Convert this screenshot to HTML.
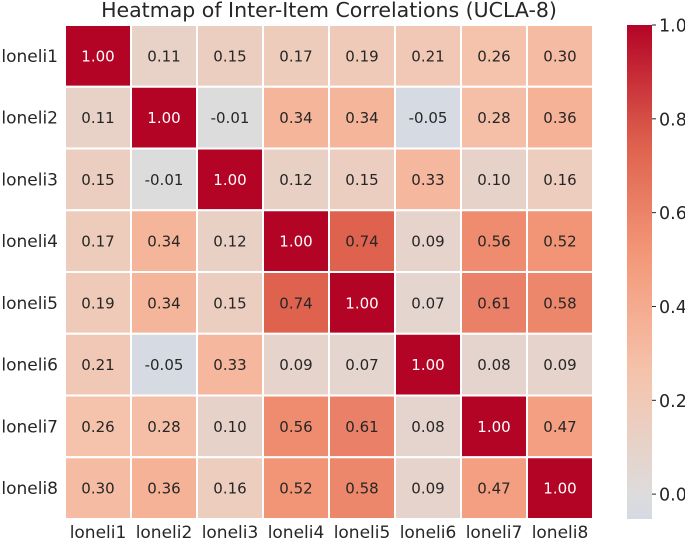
<!DOCTYPE html>
<html><head><meta charset="utf-8"><style>
body{margin:0;background:#fff;width:685px;height:539px;overflow:hidden;font-family:"Liberation Sans","DejaVu Sans",sans-serif}
</style></head><body>
<svg id="chart" width="685" height="539" xmlns="http://www.w3.org/2000/svg" font-family="DejaVu Sans, Liberation Sans, sans-serif">
<text x="329" y="17" text-anchor="middle" font-size="20.5" fill="#262626">Heatmap of Inter-Item Correlations (UCLA-8)</text>
<g id="cells"></g><g id="labels"></g>
<defs><linearGradient id="cbg" x1="0" y1="1" x2="0" y2="0"></linearGradient></defs>
<rect x="627" y="25" width="25" height="494" fill="url(#cbg)"/>
<g id="cbticks"></g>
</svg>
<script>
const items=["loneli1","loneli2","loneli3","loneli4","loneli5","loneli6","loneli7","loneli8"];
const row1=[1.00,0.11,0.15,0.17,0.19,0.21,0.26,0.30];
const row2=[0.11,1.00,-0.01,0.34,0.34,-0.05,0.28,0.36];
const row3=[0.15,-0.01,1.00,0.12,0.15,0.33,0.10,0.16];
const row4=[0.17,0.34,0.12,1.00,0.74,0.09,0.56,0.52];
const row5=[0.19,0.34,0.15,0.74,1.00,0.07,0.61,0.58];
const row6=[0.21,-0.05,0.33,0.09,0.07,1.00,0.08,0.09];
const row7=[0.26,0.28,0.10,0.56,0.61,0.08,1.00,0.47];
const row8=[0.30,0.36,0.16,0.52,0.58,0.09,0.47,1.00];
const matrix=[row1,row2,row3,row4,row5,row6,row7,row8];
const cbTicks=[0.0,0.2,0.4,0.6,0.8,1.0];
const vmin=-0.053,vmax=1.0;
const X0=65,X1=593,Y0=25,Y1=519;
const cw=(X1-X0)/items.length,ch=(Y1-Y0)/items.length;
const xs=i=>X0+i*cw, ys=i=>Y0+i*ch;
const cbY=v=>Y1-(v-vmin)/(vmax-vmin)*(Y1-Y0);
const stops=[[0,[59,76,192]],[0.125,[98,130,234]],[0.25,[141,176,254]],[0.375,[184,208,249]],[0.5,[221,220,220]],[0.625,[245,196,173]],[0.75,[244,154,123]],[0.875,[222,96,77]],[1,[180,4,38]]];
function color(v){let t=(v+1)/2;t=Math.max(0,Math.min(1,t));
for(let i=1;i<stops.length;i++){if(t<=stops[i][0]){const a=stops[i-1],b=stops[i],f=(t-a[0])/(b[0]-a[0]);
return 'rgb('+a[1].map((c,k)=>Math.round(c+(b[1][k]-c)*f)).join(',')+')';}}return 'rgb(180,4,38)';}
const NS="http://www.w3.org/2000/svg";
const cells=document.getElementById('cells'),labels=document.getElementById('labels');
matrix.forEach((row,r)=>row.forEach((v,c)=>{
const rect=document.createElementNS(NS,'rect');


rect.setAttribute('x',xs(c));rect.setAttribute('y',ys(r));rect.setAttribute('width',cw);rect.setAttribute('height',ch);
rect.setAttribute('fill',color(v));rect.setAttribute('stroke','#fff');rect.setAttribute('stroke-width','2');
cells.appendChild(rect);
const t=document.createElementNS(NS,'text');


t.setAttribute('x',xs(c)+cw/2);t.setAttribute('y',ys(r)+ch/2+5.5);t.setAttribute('text-anchor','middle');t.setAttribute('font-size','15');
t.setAttribute('fill',v>0.8?'#fff':'#262626');t.textContent=v.toFixed(2);cells.appendChild(t);
}));
items.forEach((n,i)=>{
const a=document.createElementNS(NS,'text');


a.setAttribute('x',xs(i)+cw/2);a.setAttribute('y',538);a.setAttribute('text-anchor','middle');a.setAttribute('font-size','17');a.setAttribute('fill','#262626');a.textContent=n;labels.appendChild(a);
const b=document.createElementNS(NS,'text');


b.setAttribute('x',58);b.setAttribute('y',ys(i)+ch/2+6);b.setAttribute('text-anchor','end');b.setAttribute('font-size','17');b.setAttribute('fill','#262626');b.textContent=n;labels.appendChild(b);
});
const g=document.getElementById('cbg');
for(let i=0;i<=20;i++){const v=vmin+(vmax-vmin)*i/20;const s=document.createElementNS(NS,'stop');s.setAttribute('offset',i/20);s.setAttribute('stop-color',color(v));g.appendChild(s);}
const cbt=document.getElementById('cbticks');
cbTicks.forEach(v=>{
const l=document.createElementNS(NS,'line');


l.setAttribute('x1',652);l.setAttribute('x2',656);l.setAttribute('y1',cbY(v));l.setAttribute('y2',cbY(v));l.setAttribute('stroke','#262626');cbt.appendChild(l);
const t=document.createElementNS(NS,'text');


t.setAttribute('x',659);t.setAttribute('y',cbY(v)+6.5);t.setAttribute('font-size','17.5');t.setAttribute('fill','#262626');t.textContent=v.toFixed(1);cbt.appendChild(t);
});
</script>
</body></html>
